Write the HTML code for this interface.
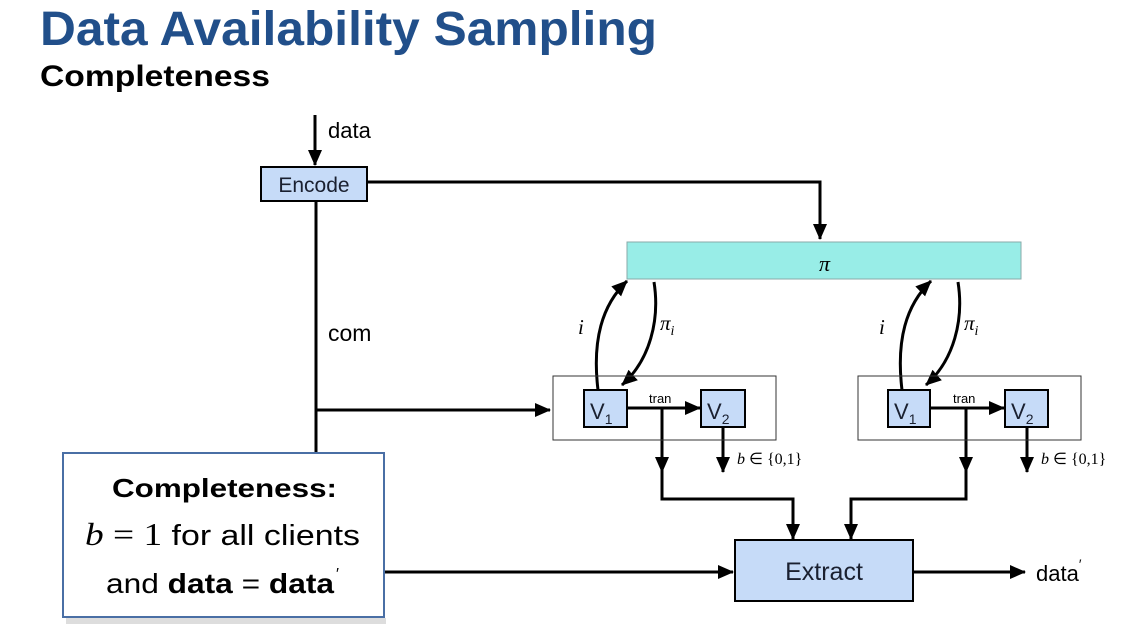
<!DOCTYPE html>
<html><head><meta charset="utf-8"><style>
html,body{margin:0;padding:0;background:#fff;}
svg{display:block;font-family:"Liberation Sans",sans-serif;}
</style></head><body>
<svg width="1143" height="634" viewBox="0 0 1143 634" xmlns="http://www.w3.org/2000/svg">
<defs>
<marker id="b" markerWidth="16" markerHeight="16" refX="15" refY="8" orient="auto" markerUnits="userSpaceOnUse" viewBox="0 0 16 16">
<path d="M0,1 L16,8 L0,15 z" fill="#000"/></marker>
</defs>
<text x="40" y="45" font-size="48" font-weight="bold" fill="#214f8a" textLength="617" lengthAdjust="spacingAndGlyphs">Data Availability Sampling</text>
<text x="40" y="86" font-size="30" font-weight="bold" fill="#000" textLength="230" lengthAdjust="spacingAndGlyphs">Completeness</text>

<g stroke="#000" stroke-width="3" fill="none">
<line x1="315" y1="115" x2="315" y2="165" marker-end="url(#b)"/>
<polyline points="367,182 820,182 820,239" marker-end="url(#b)"/>
<line x1="316" y1="201" x2="316" y2="453"/>
<line x1="316" y1="410" x2="550" y2="410" marker-end="url(#b)"/>
<line x1="627" y1="408" x2="700" y2="408" marker-end="url(#b)"/>
<line x1="930" y1="408" x2="1004" y2="408" marker-end="url(#b)"/>
<line x1="662" y1="408" x2="662" y2="472" marker-end="url(#b)"/>
<polyline points="662,468 662,499 793,499 793,539" marker-end="url(#b)"/>
<line x1="966" y1="408" x2="966" y2="472" marker-end="url(#b)"/>
<polyline points="966,468 966,499 851,499 851,539" marker-end="url(#b)"/>
<line x1="723" y1="427" x2="723" y2="472" marker-end="url(#b)"/>
<line x1="1027" y1="427" x2="1027" y2="472" marker-end="url(#b)"/>
<line x1="384" y1="572" x2="733" y2="572" marker-end="url(#b)"/>
<line x1="913" y1="572" x2="1025" y2="572" marker-end="url(#b)"/>
<path d="M598,390 C592,340 602,305 627,281" marker-end="url(#b)"/>
<path d="M654,282 C660,320 650,360 622,385" marker-end="url(#b)"/>
<path d="M902,390 C896,340 906,305 931,281" marker-end="url(#b)"/>
<path d="M958,282 C964,320 954,360 926,385" marker-end="url(#b)"/>
</g>

<rect x="261" y="167" width="106" height="34" fill="#c6dbf8" stroke="#000" stroke-width="2"/>
<text x="314" y="192" font-size="21" text-anchor="middle" fill="#1a2030">Encode</text>
<text x="328" y="138" font-size="22" fill="#000">data</text>
<text x="328" y="341" font-size="23" fill="#000">com</text>

<rect x="627" y="242" width="394" height="37" fill="#98ede7" stroke="#8aa" stroke-width="1"/>
<text x="819" y="271" font-size="22" font-style="italic" font-family="Liberation Serif,serif">π</text>

<rect x="553" y="376" width="223" height="64" fill="none" stroke="#333" stroke-width="1"/>
<rect x="858" y="376" width="223" height="64" fill="none" stroke="#333" stroke-width="1"/>
<g stroke="#000" stroke-width="2" fill="#c6dbf8">
<rect x="584" y="390" width="43" height="37"/><rect x="701" y="390" width="44" height="37"/>
<rect x="888" y="390" width="42" height="37"/><rect x="1005" y="390" width="43" height="37"/>
</g>
<g font-size="22" fill="#1a2030">
<text x="590" y="419">V<tspan font-size="14" dy="5">1</tspan></text>
<text x="707" y="419">V<tspan font-size="14" dy="5">2</tspan></text>
<text x="894" y="419">V<tspan font-size="14" dy="5">1</tspan></text>
<text x="1011" y="419">V<tspan font-size="14" dy="5">2</tspan></text>
</g>
<g font-size="13" fill="#000"><text x="649" y="403">tran</text><text x="953" y="403">tran</text></g>
<g font-family="Liberation Serif,serif" font-style="italic" font-size="21" fill="#000">
<text x="578" y="334">i</text><text x="660" y="330">π<tspan font-size="14" dy="5">i</tspan></text>
<text x="879" y="334">i</text><text x="964" y="330">π<tspan font-size="14" dy="5">i</tspan></text>
</g>
<g font-family="Liberation Serif,serif" font-size="16" fill="#000">
<text x="737" y="464"><tspan font-style="italic">b</tspan> ∈ {0,1}</text>
<text x="1041" y="464"><tspan font-style="italic">b</tspan> ∈ {0,1}</text>
</g>

<rect x="735" y="540" width="178" height="61" fill="#c6dbf8" stroke="#000" stroke-width="2"/>
<text x="824" y="580" font-size="25" text-anchor="middle" fill="#1a2030">Extract</text>
<text x="1036" y="581" font-size="22" fill="#000">data<tspan font-size="14" dy="-12">′</tspan></text>

<rect x="66" y="618" width="320" height="6" fill="#ddd"/>
<rect x="63" y="453" width="321" height="164" fill="#fff" stroke="#4a6fa5" stroke-width="2"/>
<text x="112" y="497" font-size="26" font-weight="bold" fill="#000" textLength="225" lengthAdjust="spacingAndGlyphs">Completeness:</text>
<text x="85" y="545" font-size="29" fill="#000" textLength="275" lengthAdjust="spacingAndGlyphs"><tspan font-family="Liberation Serif,serif" font-style="italic" font-size="32">b</tspan><tspan font-family="Liberation Serif,serif" font-size="32"> = 1 </tspan>for all clients</text>
<text x="106" y="593" font-size="28" fill="#000" textLength="228" lengthAdjust="spacingAndGlyphs">and <tspan font-weight="bold">data</tspan> = <tspan font-weight="bold">data</tspan></text>
<text x="336" y="579" font-size="16" fill="#000">′</text>
</svg>
</body></html>
